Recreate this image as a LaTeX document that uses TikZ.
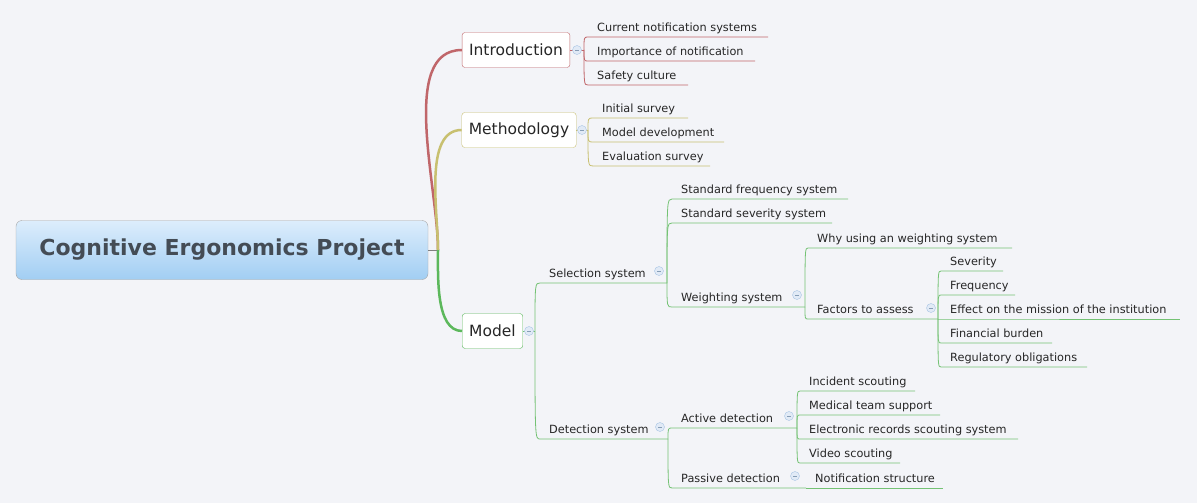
\documentclass[tikz,border=0pt]{standalone}
\usepackage{fontspec}
\setmainfont{DejaVu Sans}
\definecolor{bgc}{HTML}{F3F4F8}
\definecolor{introc}{HTML}{C0666A}
\definecolor{methc}{HTML}{C8C070}
\definecolor{modelc}{HTML}{5CB85C}
\definecolor{leafg}{HTML}{74C274}
\definecolor{rootc}{HTML}{444C55}
\definecolor{foldc}{HTML}{A8C4E4}
\definecolor{roottop}{HTML}{DCEDFC}
\definecolor{rootbot}{HTML}{A2CEF3}
\tikzset{
  leaf/.style={anchor=south west, inner xsep=9pt, inner ysep=2.5pt, text height=9pt, text depth=3pt, font=\fontsize{11.3}{13}\selectfont, text=black!85},
  topic/.style={draw, rounded corners=3pt, fill=white, inner xsep=7pt, minimum height=35pt, font=\fontsize{15.5}{18}\selectfont, text=black!85},
  fold/.style={circle, draw=foldc, fill=foldc!35, minimum size=9pt, inner sep=0pt,
    path picture={\draw[foldc!80!black] ([xshift=-2pt]path picture bounding box.center) -- ([xshift=2pt]path picture bounding box.center);}},
  stem/.style={line width=0.8pt},
  trunk/.style={line width=2.5pt},
}
\begin{document}
\begin{tikzpicture}[x=1pt,y=-1pt]
  % background
  \fill[bgc] (0,0) rectangle (1197,503);
  \useasboundingbox (0,0) rectangle (1197,503);

  % root
  \node[draw=gray!70, rounded corners=6pt, top color=roottop, bottom color=rootbot, minimum width=412pt, minimum height=59pt, font=\fontsize{22}{26}\selectfont\bfseries, text=rootc] (root) at (222,250) {Cognitive Ergonomics Project};
  \coordinate (Jroot) at (438,250);

  % main topics
  \node[topic, draw=introc] (intro) at (516,50) {Introduction};
  \node[topic, draw=methc] (meth) at (519,130) {Methodology};
  \node[topic, draw=modelc] (model) at (492.5,331) {Model};

  \draw[gray, line width=0.8pt] (root.east) -- (Jroot);
  \draw[trunk, introc] (Jroot) to[out=90,in=180,looseness=0.8] (intro.west);
  \draw[trunk, methc] (Jroot) to[out=90,in=180,looseness=0.8] (meth.west);
  \draw[trunk, modelc] (Jroot) to[out=-90,in=180,looseness=0.8] (model.west);

  % junctions
  \coordinate (Jintro) at (584,50);
  \coordinate (Jmeth) at (588,130);
  \coordinate (Jmodel) at (535,331);
  \coordinate (Jsel) at (667,283);
  \coordinate (Jweight) at (805,307);
  \coordinate (Jfact) at (938,319);
  \coordinate (Jdet) at (668,439);
  \coordinate (Jact) at (797,428);
  \coordinate (Jpass) at (806,488);

  % Introduction
  \node[leaf] (cur) at (588,37) {Current notification systems};
  \node[leaf] (imp) at (588,61) {Importance of notification};
  \node[leaf] (saf) at (588,85) {Safety culture};
  \draw[introc, line width=0.8pt] (intro.east) -- (Jintro);
  \draw[stem, introc] (Jintro) .. controls (Jintro |- cur.south west) .. (cur.south west) -- ++(180,0);
  \draw[stem, introc] (Jintro) .. controls (Jintro |- imp.south west) .. (imp.south west) -- ++(167,0);
  \draw[stem, introc] (Jintro) .. controls (Jintro |- saf.south west) .. (saf.south west) -- ++(100,0);

  % Methodology
  \node[leaf] (ini) at (593,118) {Initial survey};
  \node[leaf] (dev) at (593,142) {Model development};
  \node[leaf] (eva) at (593,166) {Evaluation survey};
  \draw[methc, line width=0.8pt] (meth.east) -- (Jmeth);
  \draw[stem, methc] (Jmeth) .. controls (Jmeth |- ini.south west) .. (ini.south west) -- ++(95,0);
  \draw[stem, methc] (Jmeth) .. controls (Jmeth |- dev.south west) .. (dev.south west) -- ++(131,0);
  \draw[stem, methc] (Jmeth) .. controls (Jmeth |- eva.south west) .. (eva.south west) -- ++(117,0);

  % Model
  \node[leaf] (sel) at (540,283) {Selection system};
  \node[leaf] (det) at (540,439) {Detection system};
  \draw[leafg, line width=0.8pt] (model.east) -- (Jmodel);
  \draw[stem, leafg] (Jmodel) .. controls (Jmodel |- sel.south west) .. (sel.south west) -- (Jsel);
  \draw[stem, leafg] (Jmodel) .. controls (Jmodel |- det.south west) .. (det.south west) -- (Jdet);

  % Selection system
  \node[leaf] (sfs) at (672,199) {Standard frequency system};
  \node[leaf] (sss) at (672,223) {Standard severity system};
  \node[leaf] (wei) at (672,307) {Weighting system};
  \draw[stem, leafg] (Jsel) .. controls (Jsel |- sfs.south west) .. (sfs.south west) -- ++(176,0);
  \draw[stem, leafg] (Jsel) .. controls (Jsel |- sss.south west) .. (sss.south west) -- ++(160,0);
  \draw[stem, leafg] (Jsel) .. controls (Jsel |- wei.south west) .. (wei.south west) -- (Jweight);

  % Weighting system
  \node[leaf] (why) at (808,248) {Why using an weighting system};
  \node[leaf] (fac) at (808,319) {Factors to assess};
  \draw[stem, leafg] (Jweight) .. controls (Jweight |- why.south west) .. (why.south west) -- ++(204,0);
  \draw[stem, leafg] (Jweight) .. controls (Jweight |- fac.south west) .. (fac.south west) -- (Jfact);

  % Factors to assess
  \node[leaf] (sev) at (941,271) {Severity};
  \node[leaf] (fre) at (941,295) {Frequency};
  \node[leaf] (eff) at (941,319) {Effect on the mission of the institution};
  \node[leaf] (fin) at (941,343) {Financial burden};
  \node[leaf] (reg) at (941,367) {Regulatory obligations};
  \draw[stem, leafg] (Jfact) .. controls (Jfact |- sev.south west) .. (sev.south west) -- ++(62,0);
  \draw[stem, leafg] (Jfact) .. controls (Jfact |- fre.south west) .. (fre.south west) -- ++(74,0);
  \draw[stem, leafg] (Jfact) -- (eff.south west) -- ++(239,0);
  \draw[stem, leafg] (Jfact) .. controls (Jfact |- fin.south west) .. (fin.south west) -- ++(111,0);
  \draw[stem, leafg] (Jfact) .. controls (Jfact |- reg.south west) .. (reg.south west) -- ++(146,0);

  % Detection system
  \node[leaf] (act) at (672,428) {Active detection};
  \node[leaf] (pas) at (672,488) {Passive detection};
  \draw[stem, leafg] (Jdet) .. controls (Jdet |- act.south west) .. (act.south west) -- (Jact);
  \draw[stem, leafg] (Jdet) .. controls (Jdet |- pas.south west) .. (pas.south west) -- (Jpass);

  % Active detection
  \node[leaf] (inc) at (800,391) {Incident scouting};
  \node[leaf] (med) at (800,415) {Medical team support};
  \node[leaf] (ele) at (800,439) {Electronic records scouting system};
  \node[leaf] (vid) at (800,463) {Video scouting};
  \draw[stem, leafg] (Jact) .. controls (Jact |- inc.south west) .. (inc.south west) -- ++(115,0);
  \draw[stem, leafg] (Jact) .. controls (Jact |- med.south west) .. (med.south west) -- ++(140,0);
  \draw[stem, leafg] (Jact) .. controls (Jact |- ele.south west) .. (ele.south west) -- ++(218,0);
  \draw[stem, leafg] (Jact) .. controls (Jact |- vid.south west) .. (vid.south west) -- ++(100,0);

  % Passive detection
  \node[leaf] (not) at (806,488) {Notification structure};
  \draw[leafg, line width=0.8pt] (Jpass) -- (not.south west) -- ++(137,0);

  % fold icons
  \node[fold] at (577,50) {};
  \node[fold] at (582,130) {};
  \node[fold] at (529,331) {};
  \node[fold] at (659,271) {};
  \node[fold] at (797,295) {};
  \node[fold] at (931,308) {};
  \node[fold] at (660,427) {};
  \node[fold] at (789,416) {};
  \node[fold] at (795,476) {};
\end{tikzpicture}
\end{document}
